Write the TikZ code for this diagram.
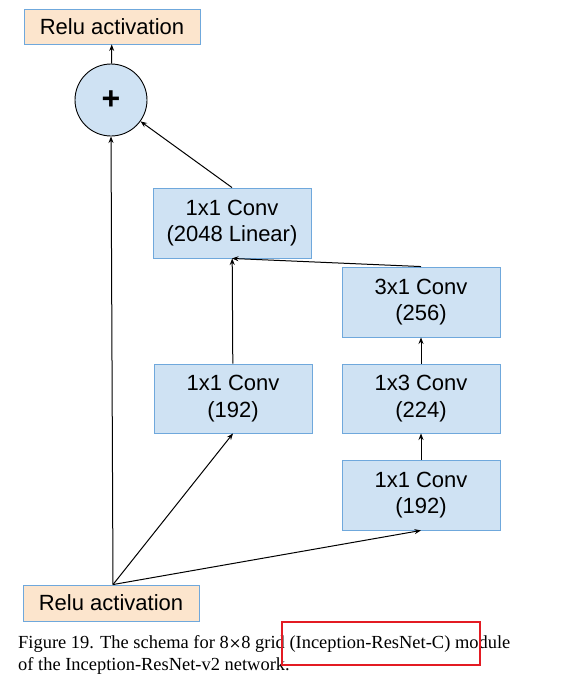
\documentclass[tikz,border=0pt]{standalone}
\usepackage{fontspec}
\setmainfont{Liberation Sans}
\newfontfamily\capfont{Liberation Serif}
\usetikzlibrary{arrows.meta}
\definecolor{peach}{HTML}{FCE5CD}
\definecolor{lblue}{HTML}{CFE2F3}
\definecolor{bord}{HTML}{6FA8DC}
\definecolor{redbox}{HTML}{E31B23}
\begin{document}
\begin{tikzpicture}[x=1pt,y=-1pt,
  relubox/.style={draw=bord,fill=peach,line width=0.9pt,minimum width=176pt,minimum height=35pt,inner sep=0pt,font=\fontsize{22}{24}\selectfont},
  convbox/.style={draw=bord,fill=lblue,line width=0.9pt,minimum width=158pt,minimum height=70pt,inner sep=0pt,align=center,font=\fontsize{22}{26.5}\selectfont},
  addnode/.style={circle,draw=black,fill=lblue,line width=0.9pt,minimum size=72pt,inner sep=0pt,font=\fontsize{32}{32}\selectfont\bfseries},
  conn/.style={line width=1pt,-{Stealth[length=6.5pt,width=5pt]}},
  captext/.style={anchor=base west,inner sep=0pt,font=\capfont\fontsize{18.45}{20}\selectfont}]
\useasboundingbox (0,0) rectangle (578,681);
\node[relubox] (trelu) at (112,26.5) {Relu activation};
\node[addnode] (add) at (111,100) {+};
\node[convbox] (lin) at (232,223) {1x1 Conv\\(2048 Linear)};
\node[convbox] (c31) at (421,302) {3x1 Conv\\(256)};
\node[convbox,minimum height=69pt] (l1) at (233,398.5) {1x1 Conv\\(192)};
\node[convbox,minimum height=69pt] (c13) at (421,398.5) {1x3 Conv\\(224)};
\node[convbox] (r1) at (421,495) {1x1 Conv\\(192)};
\node[relubox,minimum height=36pt] (brelu) at (111,603) {Relu activation};
\draw[conn] (add) -- (trelu);
\draw[conn] (lin.north) -- (add);
\draw[conn] (c31.north) -- (lin.south);
\draw[conn] (l1) -- (lin);
\draw[conn] (c13) -- (c31);
\draw[conn] (r1) -- (c13);
\coordinate (src) at ([xshift=2pt]brelu.north);
\draw[conn] (src) -- (add.south);
\draw[conn] (src) -- (l1.south);
\draw[conn] (src) -- (r1.south);
\node[captext] (cap1) at (18,648) {Figure 19. The schema for 8{\fontspec{DejaVu Serif}\fontsize{15}{15}\selectfont ×}8 grid (Inception-ResNet-C) module};
\node[captext] (cap2) at (18,670) {of the Inception-ResNet-v2 network.};
\draw[redbox,line width=2pt] (282,622) rectangle (480,665);
\end{tikzpicture}
\end{document}
